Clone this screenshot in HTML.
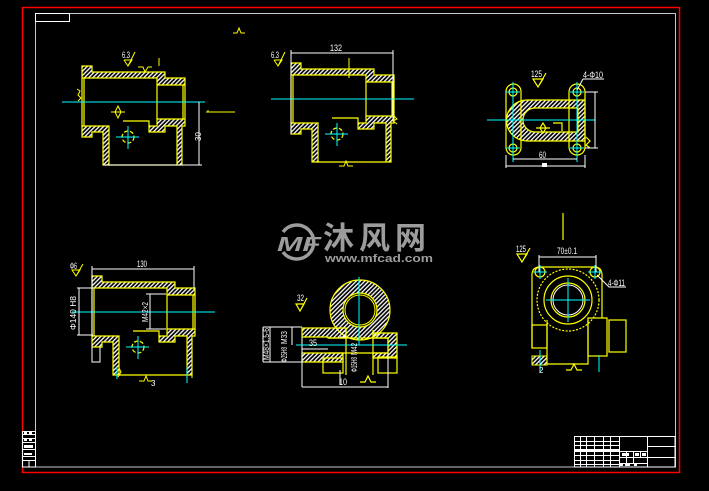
<!DOCTYPE html>
<html><head><meta charset="utf-8"><style>html,body{margin:0;padding:0;background:#000;}svg{display:block}</style></head>
<body>
<svg width="709" height="491" viewBox="0 0 709 491" xmlns="http://www.w3.org/2000/svg" xmlns:xlink="http://www.w3.org/1999/xlink" font-family="Liberation Sans, sans-serif">
<defs>
<pattern id="h" width="3" height="3" patternUnits="userSpaceOnUse" patternTransform="rotate(45)"><rect width="1.3" height="3" fill="#fff"/></pattern>
<g id="v1">
 <g fill="url(#h)" stroke="#ff0" stroke-width="1.2">
  <path d="M82,66H92V72H165V78H185V85H157V78H82Z"/>
  <path d="M82,126H109V165H103V132H92V137H82Z"/>
  <path d="M157,119H185V126H182V165H177V126H165V132H149V126H157Z"/>
 </g>
 <g fill="none" stroke="#ff0" stroke-width="1.2">
  <path d="M82,78V126M84,78V126M157,85V119M183,85V119M185,85V119"/>
  <path d="M123,121H149V126M109,165H177"/>
  <circle cx="128" cy="137" r="6" stroke-dasharray="4 2"/>
 </g>
 <path d="M62,102H205M116,137H139M128,126V149" stroke="#0ff" stroke-width="1"/>
</g>
</defs>
<rect width="709" height="491" fill="#000"/>
<!-- frames -->
<rect x="22.5" y="7.5" width="657" height="465" fill="none" stroke="#f00" stroke-width="1.5"/>
<rect x="35.5" y="13.5" width="640" height="453.5" fill="none" stroke="#c8c8c8" stroke-width="1"/>
<rect x="35.5" y="13.5" width="34" height="8" fill="none" stroke="#fff" stroke-width="1"/>
<path d="M233,33H237L239,28L241,33H245" fill="none" stroke="#ff0" stroke-width="1"/>

<!-- View 1 -->
<use xlink:href="#v1"/>
<g stroke="#fff" stroke-width="1" fill="none">
 <path d="M199,102V165M103,165H202"/>
</g>
<g fill="none" stroke="#ff0" stroke-width="1">
 <path d="M206,112H235M208,110V112"/>
 <path d="M124,60H132L128,66L124,60M128,66L135,52"/>
 <path d="M138,67H143L145,72L148,67H152"/>
 <path d="M159,58V66"/>
 <path d="M77,89L80,91L78,95L81,98L78,101"/>
 <path d="M111,112H125M118,106L121,112L118,118L115,112Z"/>
</g>
<text x="122" y="58" fill="#fff" font-size="9" textLength="8" lengthAdjust="spacingAndGlyphs">6.3</text>
<text transform="translate(201,141) rotate(-90)" fill="#fff" font-size="8">30</text>

<!-- View 2 -->
<use xlink:href="#v1" transform="translate(209,-3)"/>
<g stroke="#fff" stroke-width="1" fill="none">
 <path d="M291,53H393M291,50V134M393,50V121"/>
</g>
<text x="330" y="51" fill="#fff" font-size="9" textLength="12" lengthAdjust="spacingAndGlyphs">132</text>
<g fill="none" stroke="#ff0" stroke-width="1">
 <path d="M349,58V78"/>
 <path d="M274,60H282L278,66L274,60M278,66L285,52"/>
 <path d="M339,166H344L346,161L348,166H353"/>
 <path d="M393,115L397,119L393,121L397,124"/>
</g>
<text x="271" y="58" fill="#fff" font-size="9" textLength="8" lengthAdjust="spacingAndGlyphs">6.3</text>

<!-- View 3 -->
<path fill="url(#h)" fill-rule="evenodd" stroke="#ff0" stroke-width="1.2" d="M527,100H585V141H527A20.5,20.5 0 0 1 527,100ZM535,108H578V132H535A12,12 0 0 1 535,108Z"/>
<g fill="none" stroke="#ff0" stroke-width="1.2">
 <rect x="506" y="84" width="15" height="71" rx="7.5"/>
 <rect x="569" y="84" width="16" height="71" rx="8"/>
 <circle cx="513" cy="92" r="4"/><circle cx="513" cy="148" r="4"/>
 <circle cx="577" cy="92" r="4"/><circle cx="577" cy="148" r="4"/>
 <path d="M536,128H550M543,123L546,128L543,133L540,128Z M553,123H562V131"/>
 <path d="M533,79H543L538,87Z M538,87L546,73"/>
 <path d="M586,137L590,141L586,145L590,148"/>
</g>
<g stroke="#0ff" stroke-width="1">
 <path d="M487,120H595M513,82V162M577,82V162M506,92H520M506,148H520M570,92H584M570,148H584"/>
</g>
<g stroke="#fff" stroke-width="1" fill="none">
 <path d="M595,92V148M585,92H598M585,148H598M513,159H577M506,155V168M585,155V168M506,166H585M583,79H604M583,79L577,90"/>
</g>
<text x="531" y="77" fill="#fff" font-size="9" textLength="11" lengthAdjust="spacingAndGlyphs">125</text>
<text x="583" y="78" fill="#fff" font-size="9" textLength="20" lengthAdjust="spacingAndGlyphs">4-Φ10</text>
<text x="539" y="158" fill="#fff" font-size="9" textLength="7" lengthAdjust="spacingAndGlyphs">60</text>
<rect x="542" y="163" width="5" height="4" fill="#fff"/>

<!-- Watermark -->
<g fill="#9c9c9c">
 <path d="M283,252A17,17 0 1 0 283,232" fill="none" stroke="#9c9c9c" stroke-width="3.5"/>
 <text x="277" y="251" font-size="20" font-weight="bold" font-style="italic" textLength="44" lengthAdjust="spacingAndGlyphs">MF</text>
 <text x="323" y="249" font-family="Liberation Sans, Noto Sans CJK SC, sans-serif" font-size="31" font-weight="bold" letter-spacing="5">沐风网</text>
 <text x="325" y="262" font-size="11" font-weight="bold" textLength="108" lengthAdjust="spacingAndGlyphs">www.mfcad.com</text>
</g>

<!-- View 4 -->
<use xlink:href="#v1" transform="translate(10,210)"/>
<g stroke="#fff" stroke-width="1" fill="none">
 <path d="M92,269H194M92,266V336M194,266V290"/>
 <path d="M77,288H93M77,335H93M79,288V335"/>
 <path d="M150,294V329M146,294H166M146,329H166"/>
 <path d="M92,345V362H100V347"/>
</g>
<text x="137" y="267" fill="#fff" font-size="9" textLength="10" lengthAdjust="spacingAndGlyphs">130</text>
<text x="70" y="269" fill="#fff" font-size="9" textLength="7" lengthAdjust="spacingAndGlyphs">Ф6</text>
<g fill="none" stroke="#ff0" stroke-width="1">
 <path d="M72,270H80L76,276Z M76,276L83,264"/>
 <path d="M139,381H144L146,376L148,381H152"/>
 <path d="M119,368L121,372L118,377M192,365V378"/>
</g>
<path d="M117,367V379M187,367V383" stroke="#0ff" stroke-width="1"/>
<text transform="translate(76,330) rotate(-90)" fill="#fff" font-size="8" textLength="34" lengthAdjust="spacingAndGlyphs">Φ140 H8</text>
<text transform="translate(148,322) rotate(-90)" fill="#fff" font-size="8" textLength="20" lengthAdjust="spacingAndGlyphs">M42×2</text>
<text x="151" y="386" fill="#fff" font-size="8">3</text>

<!-- View 5 -->
<path fill="url(#h)" fill-rule="evenodd" stroke="#ff0" stroke-width="1.2" d="M330,310a30,30 0 1 0 60,0a30,30 0 1 0 -60,0ZM343,310a17,17 0 1 0 34,0a17,17 0 1 0 -34,0Z"/>
<circle cx="360" cy="310" r="15" fill="none" stroke="#ff0" stroke-width="1"/>
<g fill="url(#h)" stroke="#ff0" stroke-width="1.2">
 <path d="M302,328H346V338H328V337H302Z"/>
 <path d="M302,353H343V362H302Z"/>
 <path d="M373,333H397V358H373V353H388V338H373Z"/>
</g>
<g fill="none" stroke="#ff0" stroke-width="1.2">
 <path d="M346,330V375M373,330V375M328,338H388V353H328"/>
 <rect x="323" y="358" width="20" height="15"/>
 <rect x="378" y="357" width="19" height="16"/>
 <path d="M360,382H365L368,376L371,382H376"/>
 <path d="M296,304H304L300,311Z M300,311L307,298"/>
</g>
<g stroke="#fff" stroke-width="1" fill="none">
 <path d="M263,327H302M263,362H302M263,327V362M270,327V362M292,327V345"/>
 <path d="M302,337V387M302,349H328M302,387H388M388,353V388"/>
 <path d="M340,337H346M340,370V385"/>
</g>
<path d="M296,345H407M359,277V345" stroke="#0ff" stroke-width="1"/>
<text x="297" y="301" fill="#fff" font-size="9" textLength="7" lengthAdjust="spacingAndGlyphs">32</text>
<text x="309" y="346" fill="#fff" font-size="9" textLength="8" lengthAdjust="spacingAndGlyphs">35</text>
<text x="339" y="385" fill="#fff" font-size="9" textLength="8" lengthAdjust="spacingAndGlyphs">10</text>
<text transform="translate(269,360) rotate(-90)" fill="#fff" font-size="8" textLength="32" lengthAdjust="spacingAndGlyphs">M48×1.5-6</text>
<text transform="translate(287,344) rotate(-90)" fill="#fff" font-size="8" textLength="13" lengthAdjust="spacingAndGlyphs">M33</text>
<text transform="translate(287,362) rotate(-90)" fill="#fff" font-size="8" textLength="15" lengthAdjust="spacingAndGlyphs">Φ25H8</text>
<text transform="translate(357,355) rotate(-90)" fill="#fff" font-size="8" textLength="12" lengthAdjust="spacingAndGlyphs">M42</text>
<text transform="translate(357,372) rotate(-90)" fill="#fff" font-size="8" textLength="15" lengthAdjust="spacingAndGlyphs">Φ15H8</text>

<!-- View 6 -->
<g fill="none" stroke="#ff0" stroke-width="1.2">
 <path d="M563,213V240"/>
 <path d="M532,348V275Q532,267 540,267H594Q602,267 602,275V318"/>
 <path d="M547,320V364H588V320"/>
 <circle cx="568" cy="300" r="31" stroke-dasharray="2 1.5"/>
 <circle cx="568" cy="300" r="24"/>
 <circle cx="568" cy="300" r="17"/>
 <circle cx="540" cy="272" r="5"/>
 <circle cx="595" cy="272" r="5"/>
 <rect x="532" y="325" width="15" height="23"/>
 <rect x="588" y="318" width="19" height="38"/>
 <rect x="609" y="320" width="17" height="32"/>
 <path d="M517,254H527L522,262Z M522,262L530,248"/>
 <path d="M566,370H571L574,364L577,370H582"/>
</g>
<circle cx="568" cy="300" r="15" fill="none" stroke="#fff" stroke-width="1"/>
<rect x="532" y="356" width="15" height="9" fill="url(#h)" stroke="#ff0" stroke-width="1"/>
<path d="M546,300H590M568,278V322M533,272H547M540,265V279M588,272H602M595,265V279M540,350V372M599,355V372" stroke="#0ff" stroke-width="1"/>
<g stroke="#fff" stroke-width="1" fill="none">
 <path d="M539,257H596M539,255V272M596,255V272M597,275L609,287H626"/>
</g>
<text x="557" y="254" fill="#fff" font-size="9" textLength="20" lengthAdjust="spacingAndGlyphs">70±0.1</text>
<text x="608" y="286" fill="#fff" font-size="9" textLength="17" lengthAdjust="spacingAndGlyphs">4-Φ11</text>
<text x="516" y="252" fill="#fff" font-size="9" textLength="10" lengthAdjust="spacingAndGlyphs">125</text>
<text x="539" y="373" fill="#fff" font-size="8">2</text>

<!-- Title block -->
<g stroke="#fff" stroke-width="1" fill="none">
 <rect x="574.5" y="436.5" width="100.5" height="30.5"/>
 <path d="M619.5,436V467M647.5,436V467"/>
 <path d="M580.5,436V467M586.5,436V467M594.5,436V467M603.5,436V467M610.5,436V467"/>
 <path d="M574,441.5H619M574,445.5H619M574,449.5H619M574,451.5H647M574,455.5H619M574,460.5H619M574,464.5H619"/>
 <path d="M619,457.5H647M619,463.5H647M626.5,451V463M633.5,451V463M640.5,451V457"/>
 <path d="M647,446.5H675M647,457.5H675"/>
</g>
<g fill="#fff">
 <rect x="622" y="453" width="7" height="3"/><rect x="635" y="453" width="4" height="3"/><rect x="642" y="453" width="4" height="3"/>
 <rect x="620" y="464" width="3" height="2"/><rect x="625" y="464" width="5" height="2"/><rect x="634" y="464" width="3" height="2"/>
 <rect x="575" y="449" width="44" height="2"/>
</g>
<!-- left strip -->
<g stroke="#fff" stroke-width="1" fill="none">
 <rect x="22.5" y="431.5" width="13" height="35.5"/>
 <path d="M22,434.5H35M22,438.5H35M22,442.5H35M22,449.5H35M22,456.5H35M22,460.5H35M29,460V467"/>
</g>
<g fill="#fff">
 <rect x="24" y="432" width="3" height="2"/><rect x="29" y="432" width="3" height="2"/>
 <rect x="24" y="439" width="3" height="2"/><rect x="29" y="439" width="3" height="2"/>
 <rect x="24" y="445" width="9" height="3"/><rect x="24" y="453" width="8" height="2"/>
</g>
</svg>
</body></html>
